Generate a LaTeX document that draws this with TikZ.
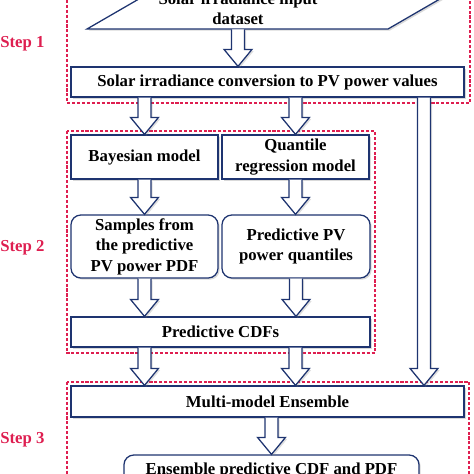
\documentclass[tikz,border=0pt]{standalone}
\usepackage{fontspec}
\setmainfont{Liberation Serif}
\usetikzlibrary{calc,shadows}

\definecolor{boxblue}{RGB}{30,52,112}
\definecolor{stepred}{RGB}{222,30,80}

% block arrow: #1 column, #2 start, #3 tip
\newcommand{\hollowarrow}[3]{%
  \draw[hollow] let \p1=(#1), \p2=(#2), \p3=(#3) in
    (\x1-4.6pt,\y2) -- (\x1-4.6pt,\y3+12pt) -- (\x1-9.9pt,\y3+12pt) -- (\x1,\y3)
    -- (\x1+9.9pt,\y3+12pt) -- (\x1+4.6pt,\y3+12pt) -- (\x1+4.6pt,\y2);}

\tikzset{
  boxfont/.style={font=\bfseries\fontsize{11.9}{14.6}\selectfont},
  flowbox/.style={draw=boxblue, line width=0.9pt, fill=white, align=center,
    boxfont, inner sep=1pt,
    drop shadow={shadow xshift=1.2pt, shadow yshift=-1.2pt, opacity=0.3}},
  roundbox/.style={flowbox, rounded corners=7pt},
  hollow/.style={draw=boxblue, line width=0.9pt, fill=white,
    drop shadow={shadow xshift=1.2pt, shadow yshift=-1.2pt, opacity=0.25}},
  stepframe/.style={draw=stepred, dash pattern=on 2.2pt off 1.3pt, line width=0.9pt},
  steplabel/.style={text=stepred, boxfont, anchor=west, inner sep=0pt}
}

\begin{document}
\begin{tikzpicture}[x=0.025cm, y=-0.025cm]
  \useasboundingbox (0,0) rectangle (474,474);
  \clip (0,0) rectangle (474,474);

  % dashed step frames
  \draw[stepframe] (67,-10) rectangle (470,103);
  \draw[stepframe] (67,131) rectangle (375,353);
  \draw[stepframe] (67,382) rectangle (469,510);

  \node[steplabel] (step1) at (0,44) {Step 1};
  \node[steplabel] (step2) at (0,248) {Step 2};
  \node[steplabel] (step3) at (0,440) {Step 3};

  % step 1
  \draw[flowbox] (87,29) -- (189,-30) -- (490,-30) -- (388,29) -- cycle;
  \node[boxfont, align=center, minimum height=1cm, inner sep=0pt] (input) at (238,9)
    {Solar irradiance input\\dataset};
  \node[flowbox, minimum width=9.825cm, minimum height=0.75cm] (conv) at (267.5,82)
    {Solar irradiance conversion to PV power values};

  % step 2
  \node[flowbox, minimum width=3.675cm, minimum height=1.1cm] (bayes) at (144.5,157)
    {Bayesian model};
  \node[flowbox, minimum width=3.675cm, minimum height=1.1cm] (quant) at (295.5,157)
    {Quantile\\regression model};
  \node[roundbox, minimum width=3.675cm, minimum height=1.575cm] (samples) at (144.5,246.5)
    {Samples from\\the predictive\\PV power PDF};
  \node[roundbox, minimum width=3.7cm, minimum height=1.575cm] (pvq) at (296,246.5)
    {Predictive PV\\power quantiles};
  \node[flowbox, minimum width=7.475cm, minimum height=0.75cm] (cdfs) at (220.5,332)
    {Predictive CDFs};

  % step 3
  \node[flowbox, minimum width=9.825cm, minimum height=0.775cm] (multi) at (267.5,401.5)
    {Multi-model Ensemble};
  \node[roundbox, minimum width=7.375cm, minimum height=0.75cm] (ens) at (271.5,470)
    {Ensemble predictive CDF and PDF};

  \coordinate (bypass) at (424,97);

  % arrows
  \hollowarrow{input.south}{input.south}{conv.north}
  \hollowarrow{bayes.north}{conv.south}{bayes.north}
  \hollowarrow{quant.north}{conv.south}{quant.north}
  \hollowarrow{bypass}{conv.south}{multi.north}
  \hollowarrow{bayes.south}{bayes.south}{samples.north}
  \hollowarrow{quant.south}{quant.south}{pvq.north}
  \hollowarrow{samples.south}{samples.south}{cdfs.north}
  \hollowarrow{pvq.south}{pvq.south}{cdfs.north}
  \hollowarrow{bayes.south}{cdfs.south}{multi.north}
  \hollowarrow{quant.south}{cdfs.south}{multi.north}
  \hollowarrow{ens.north}{multi.south}{ens.north}
\end{tikzpicture}
\end{document}
